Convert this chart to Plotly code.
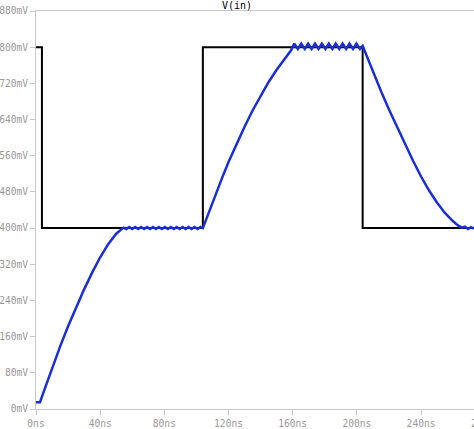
import plotly.graph_objects as go

# Input square wave (black)
sq_t = [0, 3.7, 3.7, 104, 104, 203.6, 203.6, 273]
sq_v = [800, 800, 400, 400, 800, 800, 400, 400]

# V(in) response (blue)
rise1_t = [0, 2.5, 5, 10, 15, 20, 25, 30, 35, 40, 45, 50, 52.5, 54.5]
rise1_v = [15, 15, 40, 90, 138, 183, 225, 264.5, 301.5, 335.5, 364.5, 387.5, 395, 401]

flat1_t = [56.3, 58.1, 60.0, 61.8, 63.7, 65.5, 67.4, 69.2, 71.1, 72.9, 74.8, 76.6,
           78.5, 80.3, 82.2, 84.0, 85.9, 87.7, 89.6, 91.4, 93.3, 95.1, 97.0, 98.8,
           100.7, 102.5, 104.0]
flat1_v = [398, 402.5, 398, 402.5, 398, 402.5, 398, 402.5, 398, 402.5, 398, 402.5,
           398, 402.5, 398, 402.5, 398, 402.5, 398, 402.5, 398, 402.5, 398, 402.5,
           398, 402.5, 400]

rise2_t = [106, 108, 110, 112, 116, 120, 125, 130, 135, 140, 145, 150, 155, 159]
rise2_v = [419, 438, 457, 475, 511, 546, 586, 624, 660, 693, 723, 750, 775, 793]

flat2_t = [161, 163.2, 165.3, 167.5, 169.6, 171.8, 173.9, 176.1, 178.2, 180.4,
           182.5, 184.7, 186.8, 189, 191.1, 193.3, 195.4, 197.6, 199.7, 201.9, 203.6]
flat2_v = [808, 796, 808, 796, 808, 796, 808, 796, 808, 796,
           808, 796, 808, 796, 808, 796, 808, 796, 808, 796, 803]

fall_t = [207, 210, 215, 220, 225, 230, 235, 240, 245, 250, 255, 260,
          263, 265.5, 267.4, 269.3, 271.2, 273]
fall_v = [772, 745, 703, 662, 623, 585, 549, 514, 483, 456, 433, 415,
          406, 401, 403, 398, 402, 399]

vin_t = rise1_t + flat1_t + rise2_t + flat2_t + fall_t
vin_v = rise1_v + flat1_v + rise2_v + flat2_v + fall_v

x_ticks = [0, 40, 80, 120, 160, 200, 240]
x_labels = ["0ns", "40ns", "80ns", "120ns", "160ns", "200ns", "240ns"]
x_cut_tick = 280
x_cut_label = "280ns"
y_ticks = [0, 80, 160, 240, 320, 400, 480, 560, 640, 720, 800, 880]
y_labels = ["0mV", "80mV", "160mV", "240mV", "320mV", "400mV", "480mV",
            "560mV", "640mV", "720mV", "800mV", "880mV"]
x_max = 273

fig = go.Figure()
fig.add_trace(go.Scatter(x=sq_t, y=sq_v, mode="lines",
                         line=dict(color="#000000", width=2), showlegend=False))
fig.add_trace(go.Scatter(x=vin_t, y=vin_v, mode="lines",
                         line=dict(color="#1a2ed8", width=2.5), showlegend=False))

axis_col = "#c8c8c8"
tick_font = dict(family="DejaVu Sans Mono", size=9.6, color="#999999")

# label of the next tick, mostly beyond the right edge
fig.add_annotation(text=x_cut_label, xref="paper", x=x_cut_tick / x_max,
                   yref="paper", y=0, yanchor="top", xanchor="center",
                   yshift=-7, showarrow=False, font=tick_font)

fig.update_layout(
    width=474, height=429,
    margin=dict(l=36, r=0, t=11, b=20, autoexpand=False),
    paper_bgcolor="white", plot_bgcolor="white",
    title=dict(text="V(in)", x=0.5, xref="container", y=1 - 5 / 429,
               yref="container", xanchor="center", yanchor="middle",
               font=dict(family="DejaVu Sans Mono", size=10, color="#000000")),
    xaxis=dict(range=[0, x_max], tickvals=x_ticks, ticktext=x_labels,
               showgrid=False, zeroline=False, showline=True, linecolor=axis_col,
               linewidth=1, mirror=True, ticks="outside", ticklen=5,
               tickcolor=axis_col, tickfont=tick_font, automargin=False),
    yaxis=dict(range=[0, 880], tickvals=y_ticks, ticktext=y_labels,
               showgrid=False, zeroline=False, showline=True, linecolor=axis_col,
               linewidth=1, ticks="outside", ticklen=5,
               tickcolor=axis_col, tickfont=tick_font, automargin=False),
)

fig.write_html("out.html", config={"displayModeBar": False},
               post_script="document.body.style.margin='0';document.body.style.overflow='hidden';")
